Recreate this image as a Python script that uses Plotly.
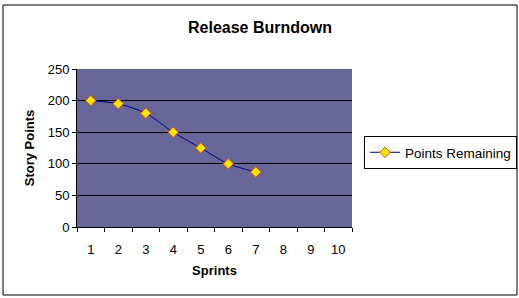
import plotly.graph_objects as go

sprints = [1, 2, 3, 4, 5, 6, 7]
points_remaining = [200, 195, 180, 150, 125, 100, 87]
x_tick_labels = ["1", "2", "3", "4", "5", "6", "7", "8", "9", "10"]
y_ticks = [0, 50, 100, 150, 200, 250]

W, H = 519, 298
L, R, T, B = 77, 352, 69, 227
pw, ph = R - L, B - T

fig = go.Figure()
fig.add_trace(go.Scatter(
    x=sprints, y=points_remaining, name="Points Remaining",
    mode="lines+markers", line=dict(color="#000080", width=1, shape="spline", smoothing=0.8),
    marker=dict(symbol="diamond", size=8, color="#FFE600", line=dict(color="#E05000", width=1)),
))
# invisible trace to carry boundary ticks on second axis
fig.add_trace(go.Scatter(x=[0.5], y=[0], xaxis="x2", showlegend=False, mode="markers",
                         marker=dict(opacity=0), hoverinfo="skip"))

font = "Arial, Liberation Sans, sans-serif"
fig.update_layout(
    width=W, height=H, margin=dict(l=L, r=W - R, t=T, b=H - B, autoexpand=False),
    paper_bgcolor="white", plot_bgcolor="#666699",
    font=dict(family=font, size=13, color="black"),
    title=dict(text="<b>Release Burndown</b>", x=(260) / W, xanchor="center", y=1 - 27 / H, yanchor="middle",
               font=dict(size=16, family=font)),
    xaxis=dict(range=[0.5, 10.5], tickvals=list(range(1, 11)), ticktext=x_tick_labels,
               showgrid=False, zeroline=False, showline=True, linecolor="black", linewidth=1,
               ticks="", ticklabelstandoff=10, automargin=False,
               title=dict(text="<b>Sprints</b>", font=dict(size=13), standoff=10)),
    xaxis2=dict(range=[0.5, 10.5], overlaying="x", tickvals=[i + 0.5 for i in range(0, 11)],
                showticklabels=False, ticks="outside", ticklen=4, tickcolor="black",
                showgrid=False, zeroline=False, side="bottom", anchor="y"),
    yaxis=dict(range=[0, 250], tickvals=y_ticks, showgrid=True, gridcolor="black", gridwidth=1,
               zeroline=False, showline=True, linecolor="black", linewidth=1,
               ticks="outside", ticklen=4, tickcolor="black", automargin=False,
               title=dict(text="<b>Story Points</b>", font=dict(size=13), standoff=10)),
    legend=dict(x=(364 - L) / pw, y=(B - 136) / ph, xanchor="left", yanchor="top",
                bordercolor="black", borderwidth=1, bgcolor="white",
                font=dict(size=13.5), itemwidth=30),
    showlegend=True,
)
fig.add_shape(type="rect", xref="paper", yref="paper",
              x0=(3 - L) / pw, x1=(517 - L) / pw, y0=(B - 295) / ph, y1=(B - 5) / ph,
              line=dict(color="black", width=1), fillcolor="rgba(0,0,0,0)", layer="below")
fig.write_html("out.html")
